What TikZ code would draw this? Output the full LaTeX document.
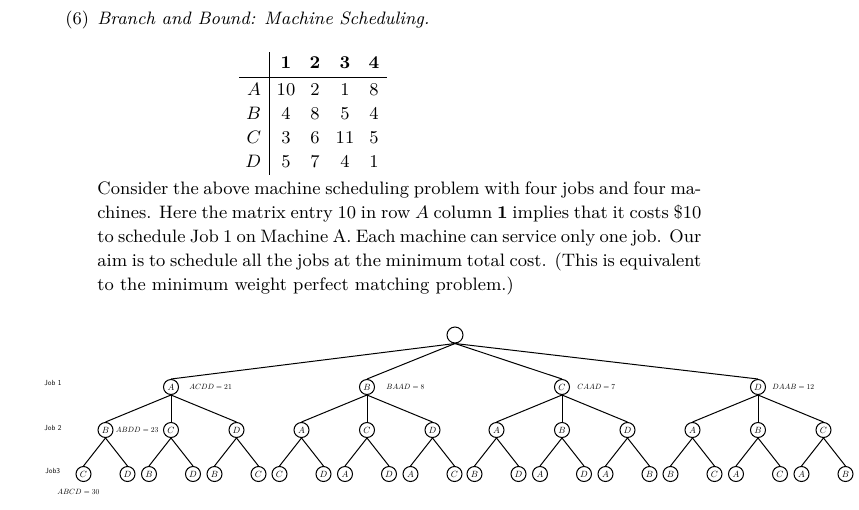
\documentclass[tikz,border=0pt]{standalone}
\usepackage{graphicx}
\begin{document}
\begin{tikzpicture}[x=0.5pt,y=-0.5pt,
  tn/.style={draw,circle,line width=0.5pt,minimum size=7.5pt,inner sep=0pt},
  rootnode/.style={draw,circle,line width=0.5pt,minimum size=8pt,inner sep=0pt},
  edge/.style={line width=0.5pt},
  lbl/.style={anchor=west,inner sep=0pt},
  joblbl/.style={anchor=west,inner sep=0pt,font=\sffamily},
  txt/.style={inner sep=0pt,anchor=base,font=\fontsize{9}{12}\selectfont},
  rule/.style={line width=0.4pt}]
\newcommand{\tl}[1]{\scalebox{0.45}{$#1$}}
\newcommand{\bl}[1]{\scalebox{0.38}{$#1$}}
\newcommand{\jl}[1]{\scalebox{0.37}{#1}}
\useasboundingbox (0,0) rectangle (859,510);
% title
\node[txt,anchor=base west] (num) at (65,24) {(6)};
\node[txt,anchor=base west] (title) at (97,24) {\textit{Branch and Bound: Machine Scheduling.}};
% table
\coordinate (vt) at (269,52); \coordinate (vb) at (269,175);
\coordinate (hl) at (239,77.7); \coordinate (hr) at (387,77.7);
\draw[rule] (vt) -- (vb);
\draw[rule] (hl) -- (hr);
\foreach \c/\x in {1/286,2/315,3/345,4/374}
  \node[txt] (h\c) at (\x,68) {\textbf{\c}};
\foreach \r/\y/\a/\b/\cc/\d in {A/95/10/2/1/8, B/119/4/8/5/4, C/143/3/6/11/5, D/167/5/7/4/1}{
  \node[txt,anchor=base east] (row\r) at (261.5,\y) {$\r$};
  \node[txt] (\r1) at (286,\y) {\a};
  \node[txt] (\r2) at (315,\y) {\b};
  \node[txt] (\r3) at (345,\y) {\cc};
  \node[txt] (\r4) at (374,\y) {\d};
}
% paragraph
\node[txt,anchor=base west] (para) at (97,194) {\parbox[t]{302pt}{\fontsize{9}{12}\selectfont
\hbox to\hsize{Consider the above machine scheduling problem with four jobs and four ma-}%
\hbox to\hsize{chines. Here the matrix entry 10 in row $A$ column \textbf{1} implies that it costs \$10}%
\hbox to\hsize{to schedule Job 1 on Machine A. Each machine can service only one job. Our}%
\hbox to\hsize{aim is to schedule all the jobs at the minimum total cost. (This is equivalent}%
\hbox{to the minimum weight perfect matching problem.)}}};
% tree
\node[rootnode] (r) at (455,335) {};
\foreach \n/\x in {A/171,B/367,C/562,D/758}{
  \node[tn] (\n) at (\x,387) {\tl{\n}};
  \draw[edge] (r.south) -- (\n.north);
}
\foreach \p/\n/\x in {A/B/105.5,A/C/171,A/D/236.5,B/A/301.5,B/C/367,B/D/432.5,C/A/496.5,C/B/562,C/D/627.5,D/A/692.5,D/B/758,D/C/823.5}{
  \node[tn] (\p\n) at (\x,430) {\tl{\n}};
  \draw[edge] (\p.south) -- (\p\n.north);
}
\foreach \p/\l/\rr/\x in {AB/C/D/105.5,AC/B/D/171,AD/B/C/236.5,BA/C/D/301.5,BC/A/D/367,BD/A/C/432.5,CA/B/D/496.5,CB/A/D/562,CD/A/B/627.5,DA/B/C/692.5,DB/A/C/758,DC/A/B/823.5}{
  \node[tn] (\p\l) at (\x-22,474) {\tl{\l}};
  \node[tn] (\p\rr) at (\x+22,474) {\tl{\rr}};
  \draw[edge] (\p.south) -- (\p\l.north);
  \draw[edge] (\p.south) -- (\p\rr.north);
}
% bound labels
\node[lbl] (lA) at (189,387) {\bl{ACDD=21}};
\node[lbl] (lB) at (386,387) {\bl{BAAD=8}};
\node[lbl] (lC) at (577,387) {\bl{CAAD=7}};
\node[lbl] (lD) at (772,387) {\bl{DAAB=12}};
\node[lbl] (lAB) at (115.5,430) {\bl{ABDD=23}};
\node[lbl] (lABC) at (57,492) {\bl{ABCD=30}};
% job labels
\node[joblbl] (j1) at (44,383) {\jl{Job 1}};
\node[joblbl] (j2) at (44,428) {\jl{Job 2}};
\node[joblbl] (j3) at (45,471.5) {\jl{Job3}};
\end{tikzpicture}
\end{document}
